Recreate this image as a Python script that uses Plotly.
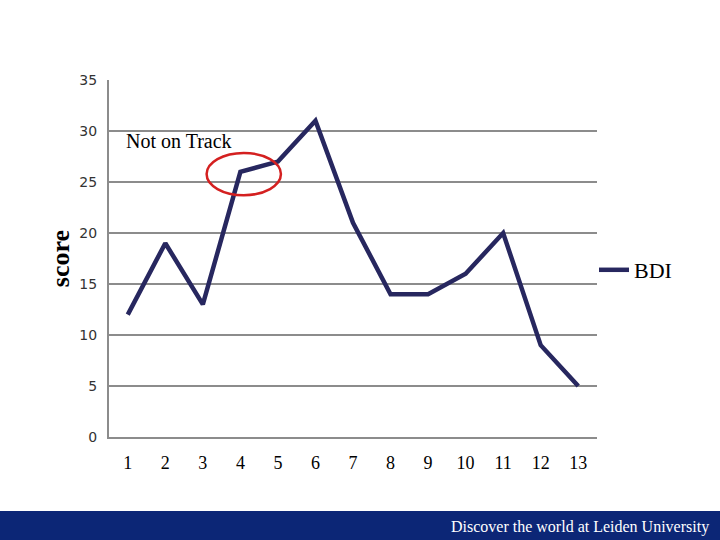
import plotly.graph_objects as go

sessions = list(range(1, 14))
bdi = [12, 19, 13, 26, 27, 31, 21, 14, 14, 16, 20, 9, 5]
y_ticks = [0, 5, 10, 15, 20, 25, 30, 35]

W, H = 720, 540
L, R, T, B = 109, 123, 80, 103
pw, ph = W - L - R, H - T - B

fig = go.Figure()
fig.add_trace(go.Scatter(
    x=sessions, y=bdi, mode="lines", name="BDI",
    line=dict(color="#27275f", width=4.5),
))

def px2paper_x(px):
    return (px - L) / pw

def px2paper_y(py):
    return (H - B - py) / ph

# footer band
fig.add_shape(type="rect", xref="paper", yref="paper",
              x0=px2paper_x(0), x1=px2paper_x(W), y0=px2paper_y(540), y1=px2paper_y(511),
              fillcolor="#0c2676", line=dict(width=0), layer="above")
fig.add_annotation(xref="paper", yref="paper", x=px2paper_x(711), y=px2paper_y(527),
                   xanchor="right", yanchor="middle", showarrow=False,
                   text="Discover the world at Leiden University",
                   font=dict(family="Liberation Serif", size=16, color="white"))

# red ellipse
fig.add_shape(type="circle", xref="x", yref="y", x0=3.1, x1=5.08, y0=23.7, y1=27.85,
              line=dict(color="#d42020", width=2.5))
fig.add_annotation(xref="paper", yref="paper", x=px2paper_x(124), y=px2paper_y(141),
                   xanchor="left", yanchor="middle", showarrow=False, text="Not on Track",
                   font=dict(family="Liberation Serif", size=20, color="black"))

fig.update_layout(
    width=W, height=H, margin=dict(l=L, r=R, t=T, b=B, pad=0),
    paper_bgcolor="white", plot_bgcolor="white",
    showlegend=True,
    legend=dict(x=1.0 - 3 / pw, y=px2paper_y(270), xanchor="left", yanchor="middle",
                font=dict(family="Liberation Serif", size=22, color="black"),
                itemwidth=30, bgcolor="rgba(0,0,0,0)"),
    xaxis=dict(range=[0.5, 13.5], tickvals=sessions, ticktext=[str(s) for s in sessions],
               showgrid=False, zeroline=False, showline=True, linecolor="#8c8c8c", linewidth=2,
               ticks="", ticklabelstandoff=8,
               tickfont=dict(family="Liberation Serif", size=18, color="black")),
    yaxis=dict(range=[0, 35], tickvals=y_ticks, showgrid=True, gridcolor="#8c8c8c", gridwidth=2,
               zeroline=False, showline=True, linecolor="#8c8c8c", linewidth=2, ticks="",
               ticklabelstandoff=7,
               tickfont=dict(family="DejaVu Sans", size=14, color="#333333"),
               title=dict(text="<b>score</b>", standoff=2,
                          font=dict(family="Liberation Serif", size=26, color="black"))),
)

fig.write_html("out.html")
